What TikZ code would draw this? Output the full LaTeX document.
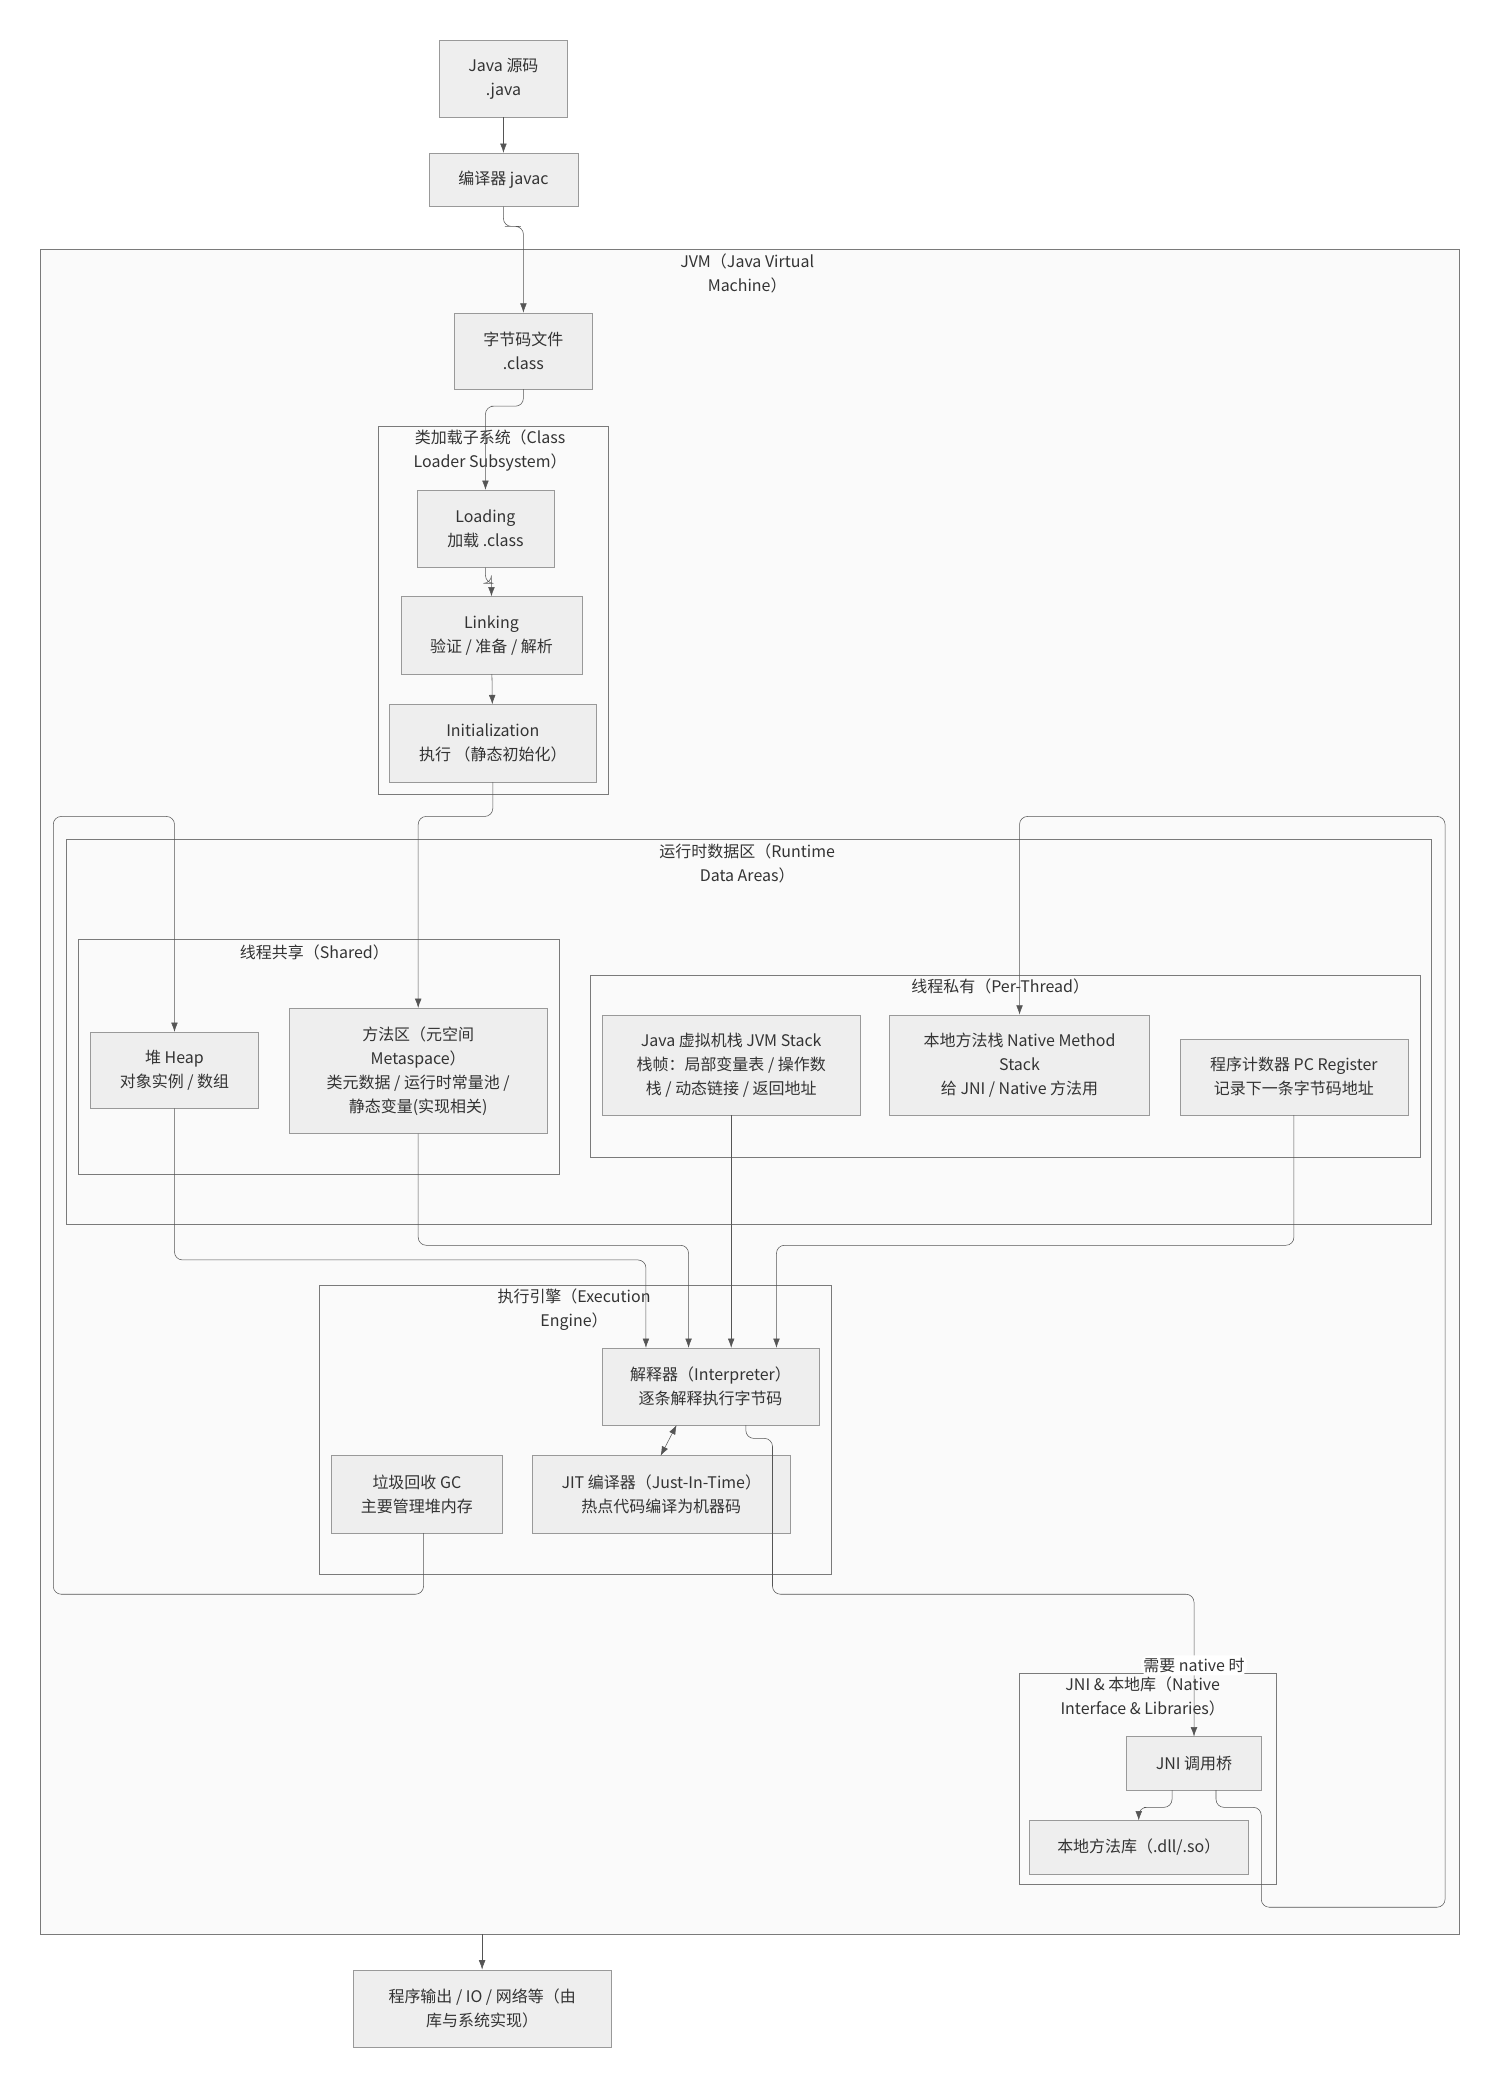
\documentclass[tikz,border=0pt]{standalone}
\usepackage{fontspec}
\setmainfont{Noto Sans CJK SC}
\usetikzlibrary{arrows.meta}
\definecolor{boxfill}{HTML}{EEEEEE}
\definecolor{boxline}{HTML}{999999}
\definecolor{grpfill}{HTML}{FAFAFA}
\definecolor{txt}{HTML}{333333}
\definecolor{edge}{HTML}{555555}
\begin{document}
\begin{tikzpicture}[x=1pt,y=-1pt,
  box/.style={draw=boxline,fill=boxfill,rectangle,align=center,text=txt,inner sep=0pt,font=\fontsize{12}{18}\selectfont},
  group/.style={draw=boxline!80!black,fill=grpfill,rectangle,inner sep=0pt},
  glabel/.style={align=center,text=txt,font=\fontsize{12}{18}\selectfont},
  link/.style={draw=edge,-{Latex[length=7pt,width=5pt]},rounded corners=6pt}]
\useasboundingbox (0,0) rectangle (1130,1573);
\fill[white] (0,0) rectangle (1130,1573);
% clusters
\node [group,minimum width=1066,minimum height=1265] (jvm) at(563,819.5){};
\node [glabel] at(561,205){JVM（Java Virtual\\Machine）};
\node [group,minimum width=173,minimum height=276] (cls) at(370.5,458){};
\node [glabel] at(368,338){类加载子系统（Class\\Loader Subsystem）};
\node [group,minimum width=1025,minimum height=289] (rda) at(562.5,774.5){};
\node [glabel] at(561,648){运行时数据区（Runtime\\Data Areas）};
\node [group,minimum width=361,minimum height=177] (shr) at(239.5,793.5){};
\node [glabel] at(236,715){线程共享（Shared）};
\node [group,minimum width=623,minimum height=137] (prv) at(754.5,800.5){};
\node [glabel] at(751,741){线程私有（Per-Thread）};
\node [group,minimum width=384,minimum height=217] (exe) at(432,1073.5){};
\node [glabel] at(431,983){执行引擎（Execution\\Engine）};
\node [group,minimum width=193,minimum height=159] (jni) at(861.5,1335.5){};
\node [glabel] at(858,1274){JNI \& 本地库（Native\\Interface \& Libraries）};
% nodes
\node [box,minimum width=96,minimum height=58] (src) at(378,59){Java 源码\\.java};
\node [box,minimum width=112,minimum height=40] (javac) at(378,135){编译器 javac};
\node [box,minimum width=104,minimum height=57] (cf) at(393,263.5){字节码文件\\.class};
\node [box,minimum width=103,minimum height=58] (load) at(364.5,397){Loading\\加载 .class};
\node [box,minimum width=136,minimum height=58] (link) at(369,477){Linking\\验证 / 准备 / 解析};
\node [box,minimum width=156,minimum height=58] (init) at(370,558){Initialization\\执行 （静态初始化）};
\node [box,minimum width=126,minimum height=57] (heap) at(131,803.5){堆 Heap\\对象实例 / 数组};
\node [box,minimum width=194,minimum height=94] (meta) at(314,804){方法区（元空间\\Metaspace）\\类元数据 / 运行时常量池 /\\静态变量(实现相关)};
\node [box,minimum width=194,minimum height=75] (jstk) at(549,799.5){Java 虚拟机栈 JVM Stack\\栈帧：局部变量表 / 操作数\\栈 / 动态链接 / 返回地址};
\node [box,minimum width=195,minimum height=75] (nstk) at(765.5,799.5){本地方法栈 Native Method\\Stack\\给 JNI / Native 方法用};
\node [box,minimum width=171,minimum height=57] (pc) at(971.5,808.5){程序计数器 PC Register\\记录下一条字节码地址};
\node [box,minimum width=163,minimum height=58] (intp) at(533.5,1041){解释器（Interpreter）\\逐条解释执行字节码};
\node [box,minimum width=128,minimum height=58] (gc) at(313,1122){垃圾回收 GC\\主要管理堆内存};
\node [box,minimum width=193,minimum height=58] (jit) at(496.5,1122){JIT 编译器（Just-In-Time）\\热点代码编译为机器码};
\node [box,minimum width=101,minimum height=40] (bridge) at(896.5,1324){JNI 调用桥};
\node [box,minimum width=164,minimum height=40] (nlib) at(855,1387){本地方法库（.dll/.so）};
\node [box,minimum width=194,minimum height=58] (out) at(362,1508){程序输出 / IO / 网络等（由\\库与系统实现）};
% edges
\draw [link] (src) -- (javac);
\draw [link] (javac.south) |- (385,170) -| (cf.north);
\draw [link] (cf.south) |- (375,305) -| (load.north);
\draw [link] (load.south) |- (369,438) -| (link.north);
\draw [link] (link) -- (init);
\draw [link] (init.south) |- (330,613) -| (meta.north);
\draw [link] (gc.south) ++(5,0) |- (40,1197) |- (90,613) -| (heap.north);
\draw [link] (heap.south) |- (300,946) -| (485,1012);
\draw [link] (meta.south) |- (400,935) -| (517,1012);
\draw [link] (jstk.south) -- (549,1012);
\draw [link] (pc.south) |- (800,935) -| (583,1012);
\draw [link,{Latex[length=7pt,width=5pt]}-{Latex[length=7pt,width=5pt]}] (508,1070) -- (496,1093);
\draw [link] (560,1070) |- (580,1080) |- (750,1197) -| (bridge.north)
  node [pos=0.75,fill=white,text=txt,font=\fontsize{12}{18}\selectfont,inner sep=2pt] {需要 native 时};
\draw [link] (880,1344) |- (865,1357) -| (nlib.north);
\draw [link] (913,1344) |- (947,1357) |- (1000,1432) -| (1085,900) |- (900,613) -| (nstk.north);
\draw [link] (jvm.south -| out.north) -- (out.north);
\end{tikzpicture}
\end{document}
